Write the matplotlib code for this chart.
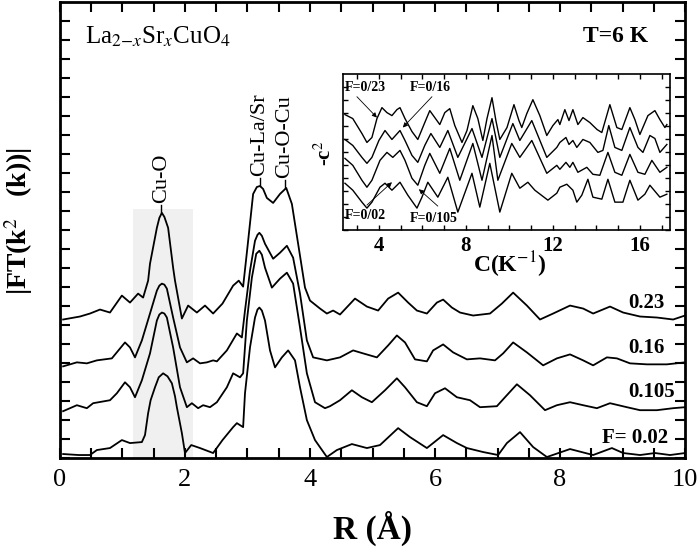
import matplotlib.pyplot as plt
import numpy as np

plt.rcParams['font.family'] = ['Liberation Serif', 'DejaVu Serif']
plt.rcParams['mathtext.fontset'] = 'stix'

# main panel: |FT(k^2 chi)| vs R, curves offset, arb. units (bottom axis = 0)
r_002 = [0.05, 0.3, 0.48, 0.59, 0.8, 0.99, 1.12, 1.31, 1.36, 1.41, 1.45, 1.52, 1.58, 1.65,
         1.72, 1.79, 1.84, 1.87, 1.95, 2.0, 2.1, 2.24, 2.45, 2.6, 2.77, 2.83, 2.93, 2.96,
         3.04, 3.12, 3.16, 3.19, 3.23, 3.28, 3.36, 3.44, 3.55, 3.65, 3.76, 3.84, 3.95, 4.08, 4.27,
         4.43, 4.67, 4.91, 5.12, 5.41, 5.6, 5.87, 6.13, 6.35, 6.51, 6.77, 7.01, 7.15,
         7.36, 7.57, 7.79, 8.16, 8.53, 8.83, 9.01, 9.28, 9.52, 9.76, 10.0]
ft_002 = [4, 3, 3, 8, 10, 18, 15, 16, 23, 45, 58, 71, 81, 85,
          82, 75, 62, 51, 25, 5, 13, 10, 5, 18, 31, 35, 31, 65,
          111, 141, 149, 151, 148, 138, 108, 91, 101, 108, 98, 71, 38, 18, 1,
          8, 14, 10, 13, 30, 21, 10, 23, 15, 10, 6, 3, 15,
          26, 11, 1, 9, 3, 10, 5, 3, 5, 3, 5]

r_0105 = [0.05, 0.27, 0.43, 0.53, 0.8, 0.91, 1.04, 1.12, 1.2, 1.31, 1.44, 1.55, 1.59, 1.63,
          1.67, 1.71, 1.81, 1.92, 2.03, 2.11, 2.21, 2.29, 2.4, 2.51, 2.67, 2.77, 2.88, 2.93,
          2.99, 3.07, 3.14, 3.19, 3.23, 3.28, 3.39, 3.52, 3.63, 3.73, 3.84, 3.95, 4.08, 4.24,
          4.32, 4.48, 4.67, 4.83, 4.99, 5.2, 5.39, 5.52, 5.71, 5.87, 6.0, 6.16, 6.35,
          6.56, 6.72, 6.99, 7.12, 7.31, 7.52, 7.76, 7.95, 8.16, 8.37, 8.59, 8.8, 9.07,
          9.28, 9.55, 9.81, 10.0]
ft_0105 = [47, 53, 50, 55, 58, 65, 76, 71, 61, 78, 105, 138, 144, 146,
           145, 141, 111, 71, 51, 55, 50, 53, 51, 56, 71, 85, 81, 85,
           138, 181, 205, 208, 204, 191, 171, 180, 186, 175, 131, 85, 56, 50,
           52, 58, 68, 61, 56, 68, 80, 71, 56, 52, 65, 70, 61,
           58, 51, 52, 61, 74, 63, 48, 53, 56, 53, 50, 55, 51,
           48, 48, 50, 51]

r_016 = [0.05, 0.27, 0.43, 0.59, 0.83, 1.04, 1.12, 1.2, 1.31, 1.44, 1.55, 1.59, 1.63, 1.67,
         1.71, 1.81, 1.92, 2.03, 2.13, 2.24, 2.35, 2.45, 2.51, 2.67, 2.83, 2.91, 2.96, 3.04,
         3.12, 3.16, 3.19, 3.23, 3.28, 3.41, 3.52, 3.63, 3.73, 3.84, 3.95, 4.05, 4.27, 4.48,
         4.69, 4.85, 5.07, 5.25, 5.39, 5.52, 5.68, 5.87, 5.97, 6.13, 6.29, 6.51, 6.72, 6.96,
         7.09, 7.25, 7.47, 7.73, 7.95, 8.16, 8.37, 8.53, 8.75, 8.91, 9.12, 9.39, 9.71, 10.0]
ft_016 = [92, 96, 95, 98, 100, 116, 111, 101, 118, 145, 168, 173, 175, 174,
          170, 141, 111, 96, 100, 95, 96, 98, 97, 108, 125, 121, 148, 188,
          218, 224, 226, 223, 215, 200, 206, 213, 201, 165, 118, 101, 98, 101,
          108, 105, 101, 113, 123, 116, 99, 97, 108, 114, 106, 99, 100, 98,
          105, 116, 106, 93, 100, 104, 98, 93, 101, 100, 95, 94, 94, 96]

r_023 = [0.05, 0.32, 0.48, 0.64, 0.8, 0.99, 1.12, 1.25, 1.33, 1.41, 1.44, 1.55, 1.59, 1.63,
         1.67, 1.73, 1.81, 1.84, 1.95, 2.05, 2.19, 2.32, 2.45, 2.6, 2.77, 2.86, 2.93, 3.0,
         3.09, 3.15, 3.2, 3.25, 3.31, 3.41, 3.52, 3.62, 3.71, 3.81, 3.92, 4.0, 4.16, 4.27, 4.37,
         4.48, 4.72, 4.91, 5.09, 5.25, 5.41, 5.57, 5.71, 5.87, 6.03, 6.13, 6.27, 6.4,
         6.61, 6.88, 7.07, 7.25, 7.47, 7.68, 7.89, 8.16, 8.37, 8.53, 8.8, 9.01, 9.28,
         9.55, 9.81, 10.0]
ft_023 = [139, 142, 145, 149, 146, 163, 156, 165, 161, 178, 195, 231, 241, 246,
          242, 231, 191, 178, 140, 153, 146, 153, 145, 155, 173, 178, 172, 212,
          265, 272, 273, 270, 261, 256, 265, 271, 255, 215, 171, 158, 150, 145, 148,
          144, 160, 152, 148, 160, 166, 156, 148, 145, 156, 159, 151, 146,
          143, 145, 155, 166, 153, 139, 145, 153, 150, 145, 152, 146, 142,
          141, 139, 143]

# inset: -c^2 vs C(K^-1), offset curves, arb. units
k_023 = [2.44, 2.80, 3.22, 3.45, 3.68, 3.91, 4.14, 4.37, 4.60, 4.83, 4.97, 5.20, 5.52,
         5.79, 6.11, 6.34, 6.57, 6.80, 7.03, 7.26, 7.49, 7.82, 8.05, 8.32, 8.55, 8.78,
         8.97, 9.20, 9.38, 9.56, 9.89, 10.21, 10.44, 10.57, 10.80, 11.08, 11.40, 11.72,
         12.00, 12.23, 12.32, 12.55, 12.74, 12.92, 13.15, 13.38, 13.70, 14.03, 14.25,
         14.62, 14.94, 15.17, 15.54, 15.77, 16.00, 16.37, 16.69, 16.92, 17.15, 17.24]
c_023 = [116, 112, 97, 88, 93, 112, 123, 118, 115, 121, 123, 112, 99,
         91, 108, 120, 113, 106, 118, 122, 105, 88, 100, 125, 112, 90,
         112, 133, 110, 91, 103, 126, 110, 103, 117, 131, 115, 95,
         105, 111, 106, 121, 110, 121, 106, 113, 108, 101, 98,
         126, 103, 101, 123, 111, 96, 115, 120, 111, 103, 106]

k_016 = [2.44, 2.80, 3.22, 3.45, 3.68, 4.00, 4.28, 4.60, 4.97, 5.20, 5.52, 5.79, 6.11,
         6.39, 6.80, 7.17, 7.63, 8.28, 8.74, 9.20, 9.56, 10.16, 10.48, 11.03, 11.72,
         12.18, 12.32, 12.60, 12.74, 12.92, 13.10, 13.38, 13.70, 14.07, 14.30, 14.57,
         14.85, 15.17, 15.54, 15.91, 16.14, 16.46, 16.69, 16.92, 17.24]
c_016 = [91, 85, 73, 67, 73, 90, 100, 91, 100, 90, 75, 68, 85,
         97, 83, 100, 73, 102, 73, 112, 73, 107, 90, 110, 73,
         83, 88, 93, 86, 90, 83, 91, 88, 78, 80, 105,
         83, 80, 103, 83, 78, 95, 92, 78, 86]

k_0105 = [2.44, 2.80, 3.22, 3.45, 3.68, 4.05, 4.37, 4.64, 4.97, 5.20, 5.52, 5.79, 6.11,
          6.34, 6.80, 7.26, 7.72, 8.32, 8.74, 9.20, 9.47, 10.11, 10.48, 11.03, 11.72,
          12.18, 12.32, 12.60, 12.78, 12.92, 13.15, 13.56, 13.84, 14.16, 14.53, 14.85,
          15.17, 15.54, 15.91, 16.23, 16.55, 16.92, 17.24]
c_0105 = [72, 65, 50, 43, 50, 70, 78, 73, 80, 70, 52, 45, 65,
          77, 57, 82, 50, 87, 50, 95, 50, 87, 73, 90, 57,
          65, 61, 68, 63, 68, 58, 63, 56, 55, 78, 58,
          55, 76, 58, 56, 70, 58, 63]

k_002 = [2.44, 2.80, 3.22, 3.45, 3.68, 4.05, 4.28, 4.60, 4.97, 5.33, 5.75, 5.98, 6.25,
         6.71, 7.17, 7.63, 8.28, 8.64, 9.10, 9.56, 10.11, 10.48, 10.85, 11.17, 11.77,
         12.18, 12.32, 12.64, 12.92, 13.10, 13.33, 13.61, 13.84, 14.25, 14.53, 14.85,
         15.22, 15.54, 15.91, 16.23, 16.46, 16.92, 17.24]
c_002 = [47, 40, 28, 22, 28, 43, 47, 40, 48, 35, 22, 33, 48,
         33, 53, 18, 57, 23, 67, 18, 57, 42, 48, 40, 30,
         37, 43, 46, 40, 28, 35, 51, 33, 31, 51, 28,
         28, 50, 30, 36, 45, 33, 36]

fig = plt.figure(figsize=(7, 5.48), dpi=100)
ax = fig.add_axes([0.0857, 0.1642, 0.8929, 0.8328])

ax.fill_between([1.17, 2.13], 0, 250, color='#f0f0f0', lw=0, zorder=0)
for r, f in [(r_002, ft_002), (r_0105, ft_0105), (r_016, ft_016), (r_023, ft_023)]:
    ax.plot(r, f, color='black', lw=1.3, solid_joinstyle='round')

ax.set_xlim(0, 10)
ax.set_ylim(0, 458)
ax.set_xticks(np.arange(0, 11, 2))
ax.set_xticks(np.arange(0, 10.01, 0.5), minor=True)
ax.set_yticks(np.arange(0, 458, 458 / 24))
ax.set_yticklabels([])
ax.tick_params(which='both', direction='in', top=True, right=True, width=1.5, length=7,
               labelsize=19, pad=8)
for s in ax.spines.values():
    s.set_linewidth(2)

ax.set_xlabel('R (Å)', fontsize=24, fontweight='bold', labelpad=14)
ax.text(-0.066, 0.52, '|FT(k$^2$   (k))|', transform=ax.transAxes, rotation=90,
        ha='center', va='center', fontsize=20, fontweight='bold')

# peak labels
for x, y, lab in [(1.62, 246, 'Cu-O'), (3.2, 273, 'Cu-La/Sr'), (3.6, 271, 'Cu-O-Cu')]:
    ax.plot([x, x], [y, y + 8], color='black', lw=1)
    ax.text(x, y + 10, lab, rotation=90, ha='center', va='bottom', fontsize=16)

ax.text(0.4, 416, r'La$_{2\mathrm{-}x}$Sr$_x$CuO$_4$', fontsize=18, va='baseline')
ax.text(8.37, 423, 'T=6 K', fontsize=17, fontweight='bold', va='center')
ax.text(9.09, 156, '0.23', fontsize=15, fontweight='bold', va='center')
ax.text(9.09, 110, '0.16', fontsize=15, fontweight='bold', va='center')
ax.text(9.09, 66, '0.105', fontsize=15, fontweight='bold', va='center')
ax.text(8.67, 20, 'F= 0.02', fontsize=15, fontweight='bold', va='center')

# inset
ax_in = fig.add_axes([0.49, 0.5803, 0.467, 0.285])
for k, c in [(k_023, c_023), (k_016, c_016), (k_0105, c_0105), (k_002, c_002)]:
    ax_in.plot(k, c, color='black', lw=1.0, solid_joinstyle='round')
ax_in.set_xlim(2.35, 17.38)
ax_in.set_ylim(0, 157)
ax_in.set_xticks([4, 8, 12, 16])
ax_in.set_xticks(np.arange(3, 18, 1), minor=True)
ax_in.set_yticks(np.arange(0, 157, 157 / 12))
ax_in.set_yticklabels([])
ax_in.tick_params(which='both', direction='in', top=True, right=True, width=1, length=3.5,
                  labelsize=15, pad=4)
for t in ax_in.get_xticklabels():
    t.set_fontweight('bold')
for s in ax_in.spines.values():
    s.set_linewidth(1.2)
ax_in.text(0.51, -0.22, 'C(K$^{-1}$)', transform=ax_in.transAxes, ha='center', va='center',
           fontsize=17, fontweight='bold')
ax_in.text(-0.055, 0.49, '-c$^2$', transform=ax_in.transAxes, ha='center', va='center',
           rotation=90, fontsize=15, fontweight='bold')

arrow = dict(arrowstyle='-|>', color='black', lw=0.6, mutation_scale=7, shrinkA=0, shrinkB=0)
for lab, tx, ty, x0, y0, x1, y1 in [('F=0/23', 2.44, 143, 2.99, 134, 3.91, 113),
                                    ('F=0/16', 5.43, 143, 6.44, 134, 5.1, 103),
                                    ('F=0/02', 2.44, 15, 3.45, 25, 4.6, 48),
                                    ('F=0/105', 5.43, 12, 6.71, 24, 5.84, 41)]:
    ax_in.text(tx, ty, lab, fontsize=10, fontweight='bold', va='center')
    ax_in.annotate('', xy=(x1, y1), xytext=(x0, y0), arrowprops=arrow)

fig.savefig('out.png', dpi=100)
